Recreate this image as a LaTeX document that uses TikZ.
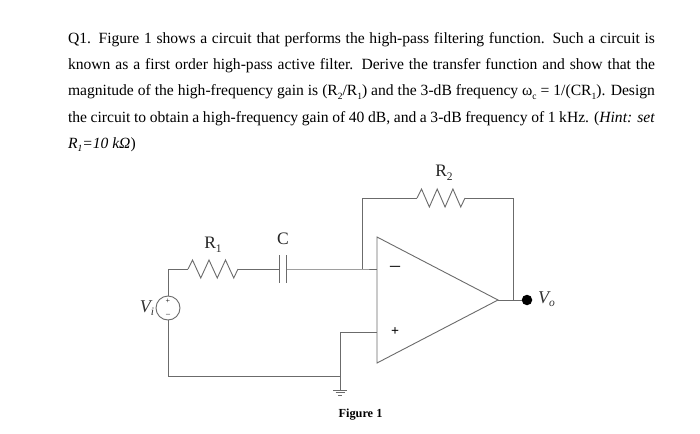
\documentclass[tikz,border=0pt]{standalone}
\usepackage{fontspec}
\setmainfont{Liberation Serif}
\usetikzlibrary{calc}
\definecolor{wirecolor}{gray}{0.42}
\tikzstyle{wire}=[draw=wirecolor,line width=0.9pt]
\tikzstyle{plain}=[inner sep=0pt,outer sep=0pt]
\tikzstyle{question}=[plain,anchor=north west,text width=587pt,align=justify,
                      font=\fontsize{15.6}{26.3}\selectfont]
\tikzstyle{complabel}=[plain,font=\fontsize{17.5}{20}\selectfont,text=black!85]
\tikzstyle{vlabel}=[plain,font=\fontsize{18}{20}\selectfont\itshape,text=black!80]
\tikzstyle{sign}=[plain,font=\fontsize{14}{14}\selectfont\bfseries]
\newcommand\resistorpath[3]{(#1,#2) -- ++(4.5,-9) -- ++(#3,18) -- ++(#3,-18) -- ++(#3,18) -- ++(#3,-18) -- ++(#3,18) -- ++(4.25,-9)}
\newcommand\sub[1]{\raisebox{-0.22em}{\fontsize{9.5}{10}\selectfont #1}}
\newcommand\labsub[1]{\raisebox{-0.2em}{\fontsize{11.5}{12}\selectfont #1}}
\begin{document}
\begin{tikzpicture}[x=1pt,y=-1pt]
    \useasboundingbox (0,0) rectangle (700,433);
    \fill[white] (0,0) rectangle (700,433);
    \node [question] (text) at (68,32.2) {
        Q1. Figure 1 shows a circuit that performs the high-pass filtering function. Such a circuit is\linebreak
        known as a first order high-pass active filter. Derive the transfer function and show that the\linebreak
        magnitude of the high-frequency gain is (R\sub{2}/R\sub{1}) and the 3-dB frequency ω\sub{c} = 1/(CR\sub{1}). Design\linebreak
        the circuit to obtain a high-frequency gain of 40 dB, and a 3-dB frequency of 1 kHz. (\textit{Hint: set}\linebreak
        \textit{R\sub{1}=10 kΩ})
    };
    % amplifier
    \coordinate (opamp top) at (377,237);
    \coordinate (opamp bottom) at (377,363);
    \coordinate (opamp out) at (498,300);
    \draw [wire] (opamp top) -- (opamp bottom) -- (opamp out) -- cycle;
    \node [sign,font=\fontsize{20}{20}\selectfont] (minus) at (395,269) {–};
    \node [sign] (plus) at (395,332) {+};
    \coordinate (inv in) at (377,269);
    \coordinate (noninv in) at (377,332);
    % source
    \node [circle,wire,minimum size=24pt,plain] (source) at (168,308) {};
    \node [plain,font=\fontsize{8}{8}\selectfont] (source plus) at (168,301.5) {+};
    \node [plain,font=\fontsize{8}{8}\selectfont] (source minus) at (168,315.5) {--};
    \node [vlabel] (Vi) at (147,308) {V\labsub{i}};
    % input branch
    \coordinate (corner in) at (168,269);
    \coordinate (r1 left) at (188,269);
    \coordinate (r1 right) at (238,269);
    \coordinate (c left) at (279,269);
    \coordinate (c right) at (286,269);
    \coordinate (junction) at (362,269);
    \draw [wire] (source.north) -- (corner in) -- (r1 left);
    \draw [wire] \resistorpath{188}{269}{8.25};
    \draw [wire] (r1 right) -- (c left);
    \draw [wire] (279,255) -- (279,283);
    \draw [wire] (286,255) -- (286,283);
    \draw [wire] (c right) -- (junction) -- (inv in);
    \node [complabel] (R1) at (213,245) {R\labsub{1}};
    \node [complabel] (C) at (283,239) {C};
    % feedback
    \coordinate (fb left) at (362,198);
    \coordinate (r2 left) at (417,198);
    \coordinate (r2 right) at (465,198);
    \coordinate (fb right) at (513,198);
    \coordinate (fb down) at (513,300);
    \draw [wire] (junction) -- (fb left) -- (r2 left);
    \draw [wire] \resistorpath{417}{198}{7.85};
    \draw [wire] (r2 right) -- (fb right) -- (fb down);
    \node [complabel] (R2) at (444,173) {R\labsub{2}};
    % output
    \node [circle,fill=black,plain,minimum size=10.5pt] (out) at (527,300) {};
    \draw [wire] (opamp out) -- (out);
    \node [vlabel,anchor=west] (Vo) at (538,299) {V\labsub{o}};
    % ground return
    \coordinate (corner gnd) at (168,376);
    \coordinate (gnd join) at (340,376);
    \coordinate (plus corner) at (340,332);
    \coordinate (gnd) at (340,390);
    \draw [wire] (source.south) -- (corner gnd) -- (gnd join);
    \draw [wire] (noninv in) -- (plus corner) -- (gnd);
    \draw [wire] (333,390) -- (347,390);
    \draw [wire] (335.5,392.5) -- (344.5,392.5);
    \draw [wire] (338,395) -- (342,395);
    \node [plain,font=\fontsize{12.3}{14}\selectfont\bfseries] (figure) at (360.5,415) {Figure 1};
\end{tikzpicture}
\end{document}
